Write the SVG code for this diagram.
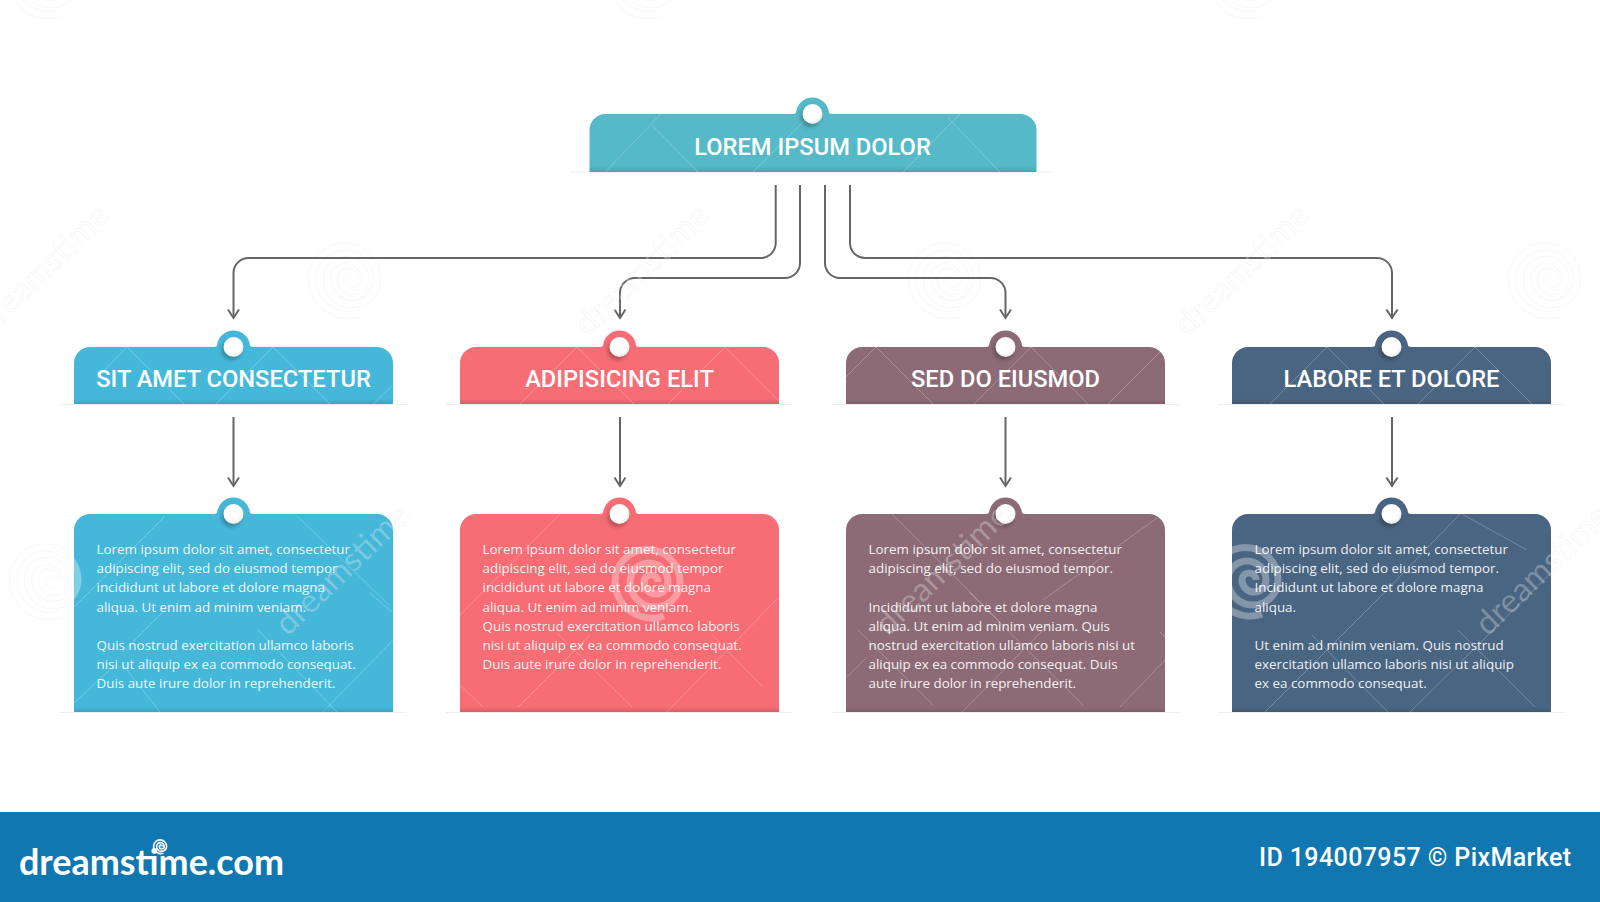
<svg xmlns="http://www.w3.org/2000/svg" width="1600" height="902" viewBox="0 0 1600 902">
<style>
.title{font-family:Roboto,"Liberation Sans",sans-serif;font-weight:500;font-size:23.700px;fill:#fff;text-anchor:middle}
.body{font-family:"Open Sans","Noto Sans",sans-serif;font-size:13.400px;fill:#fff;fill-opacity:.93}
.conn{fill:none;stroke:#666;stroke-width:2}
.base{stroke:#eeeeee;stroke-width:1}
.wl{stroke:#fff;stroke-opacity:.24;stroke-width:1;fill:none}
.wt{font-family:Lato,"Noto Sans",sans-serif;font-size:33px;fill:#fff;fill-opacity:.3;stroke:#000;stroke-opacity:.05;stroke-width:1}
.sp1{fill:none;stroke:#000;stroke-opacity:.05;stroke-width:8}
.sp2{fill:none;stroke:#fff;stroke-width:7}
.sp3{fill:none;stroke:#fff;stroke-width:7;stroke-opacity:.32}
.id{font-family:Roboto,"Liberation Sans",sans-serif;font-weight:500;font-size:25px;fill:#fff}
.logo{font-family:Lato,"Noto Sans",sans-serif;font-weight:700;font-size:36px;fill:#fff}
</style>
<defs>
<path id="head" d="M-5.500 -8.500L0 0L5.500 -8.500" fill="none" stroke="#666" stroke-width="2"/>
<linearGradient id="edge" x1="0" y1="0" x2="0" y2="1"><stop offset="0" stop-color="#000" stop-opacity="0"/><stop offset="1" stop-color="#000" stop-opacity=".12"/></linearGradient>
<radialGradient id="knob" cx=".45" cy=".4" r=".7"><stop offset=".6" stop-color="#fff"/><stop offset="1" stop-color="#dcdcdc"/></radialGradient>
<filter id="soft" x="-50%" y="-50%" width="200%" height="200%"><feGaussianBlur stdDeviation="2"/></filter>
<g id="pin">
<path d="M-20 0Q-16.400 0 -16.300 -2.500A16.500 16.500 0 0 1 16.300 -2.500Q16.400 0 20 0L20 4L-20 4Z"/>
<circle cx="-2" cy="3" r="10" fill="#000" fill-opacity=".28" filter="url(#soft)"/>
<circle r="10" fill="url(#knob)"/>
</g>
<path id="spiral" d="M6 2A7 7 0 0 0 -8 2A12 12 0 0 0 16 2A19 19 0 0 0 -22 2A25 25 0 0 0 28 2A32.500 32.500 0 0 0 -37 2A37 37 0 0 0 12 36"/>
</defs>

<g id="wm-under">
<use href="#spiral" class="sp1" x="349" y="277"/><use href="#spiral" class="sp2" x="349" y="277"/>
<use href="#spiral" class="sp1" x="949" y="277"/><use href="#spiral" class="sp2" x="949" y="277"/>
<use href="#spiral" class="sp1" x="1549" y="277"/><use href="#spiral" class="sp2" x="1549" y="277"/>
<use href="#spiral" class="sp1" x="50" y="578"/><use href="#spiral" class="sp2" x="50" y="578"/>
<use href="#spiral" class="sp1" x="48" y="-23"/><use href="#spiral" class="sp2" x="48" y="-23"/>
<use href="#spiral" class="sp1" x="648" y="-23"/><use href="#spiral" class="sp2" x="648" y="-23"/>
<use href="#spiral" class="sp1" x="1248" y="-23"/><use href="#spiral" class="sp2" x="1248" y="-23"/>
</g>

<g id="connectors">
<path class="conn" d="M775.700 185V243A15 15 0 0 1 760.700 258H248.500A15 15 0 0 0 233.500 273V317"/>
<path class="conn" d="M800 185V263A15 15 0 0 1 785 278H635A15 15 0 0 0 620 293V317"/>
<path class="conn" d="M825 185V263A15 15 0 0 0 840 278H990.500A15 15 0 0 1 1005.500 293V317"/>
<path class="conn" d="M850 185V243A15 15 0 0 0 865 258H1377A15 15 0 0 1 1392 273V317"/>
<path class="conn" d="M233.500 417V485"/>
<path class="conn" d="M620 417V485"/>
<path class="conn" d="M1005.500 417V485"/>
<path class="conn" d="M1392 417V485"/>
<use href="#head" x="233.500" y="318"/><use href="#head" x="620" y="318"/><use href="#head" x="1005.500" y="318"/><use href="#head" x="1392" y="318"/>
<use href="#head" x="233.500" y="486"/><use href="#head" x="620" y="486"/><use href="#head" x="1005.500" y="486"/><use href="#head" x="1392" y="486"/>
</g>

<g id="root-node">
<line class="base" x1="570" y1="172" x2="1055" y2="172"/>
<path fill="#56b9c8" d="M589.500 172V130A16 16 0 0 1 605.500 114H1020.500A16 16 0 0 1 1036.500 130V172Z"/>
<rect x="589.500" y="166" width="447" height="6" fill="url(#edge)"/>
<use href="#pin" x="812.500" y="114" fill="#56b9c8"/>
<text class="title" x="812.500" y="155">LOREM IPSUM DOLOR</text>
</g>

<g id="head-1">
<line class="base" x1="60" y1="404.500" x2="407" y2="404.500"/>
<path fill="#45b8da" d="M74 404V363A16 16 0 0 1 90 347H377A16 16 0 0 1 393 363V404Z"/>
<rect x="74" y="399" width="319" height="5" fill="url(#edge)"/>
<use href="#pin" x="233.500" y="347" fill="#45b8da"/>
<text class="title" x="233.500" y="387">SIT AMET CONSECTETUR</text>
</g>
<g id="head-2">
<line class="base" x1="446" y1="404.500" x2="793" y2="404.500"/>
<path fill="#f66d75" d="M460 404V363A16 16 0 0 1 476 347H763A16 16 0 0 1 779 363V404Z"/>
<rect x="460" y="399" width="319" height="5" fill="url(#edge)"/>
<use href="#pin" x="619.500" y="347" fill="#f66d75"/>
<text class="title" x="619.500" y="387">ADIPISICING ELIT</text>
</g>
<g id="head-3">
<line class="base" x1="832" y1="404.500" x2="1179" y2="404.500"/>
<path fill="#8c6b77" d="M846 404V363A16 16 0 0 1 862 347H1149A16 16 0 0 1 1165 363V404Z"/>
<rect x="846" y="399" width="319" height="5" fill="url(#edge)"/>
<use href="#pin" x="1005.500" y="347" fill="#8c6b77"/>
<text class="title" x="1005.500" y="387">SED DO EIUSMOD</text>
</g>
<g id="head-4">
<line class="base" x1="1218" y1="404.500" x2="1565" y2="404.500"/>
<path fill="#4a6582" d="M1232 404V363A16 16 0 0 1 1248 347H1535A16 16 0 0 1 1551 363V404Z"/>
<rect x="1232" y="399" width="319" height="5" fill="url(#edge)"/>
<use href="#pin" x="1391.500" y="347" fill="#4a6582"/>
<text class="title" x="1391.500" y="387">LABORE ET DOLORE</text>
</g>

<g id="card-1">
<line class="base" x1="60" y1="712.500" x2="407" y2="712.500"/>
<path fill="#45b8da" d="M74 712V530A16 16 0 0 1 90 514H377A16 16 0 0 1 393 530V712Z"/>
<rect x="74" y="707" width="319" height="5" fill="url(#edge)"/>
<use href="#pin" x="233.500" y="514" fill="#45b8da"/>
<text class="body" x="96.500" y="554">Lorem ipsum dolor sit amet, consectetur</text>
<text class="body" x="96.500" y="573.200">adipiscing elit, sed do eiusmod tempor</text>
<text class="body" x="96.500" y="592.400">incididunt ut labore et dolore magna</text>
<text class="body" x="96.500" y="611.600">aliqua. Ut enim ad minim veniam.</text>
<text class="body" x="96.500" y="650">Quis nostrud exercitation ullamco laboris</text>
<text class="body" x="96.500" y="669.200">nisi ut aliquip ex ea commodo consequat.</text>
<text class="body" x="96.500" y="688.400">Duis aute irure dolor in reprehenderit.</text>
</g>
<g id="card-2">
<line class="base" x1="446" y1="712.500" x2="793" y2="712.500"/>
<path fill="#f66d75" d="M460 712V530A16 16 0 0 1 476 514H763A16 16 0 0 1 779 530V712Z"/>
<rect x="460" y="707" width="319" height="5" fill="url(#edge)"/>
<use href="#pin" x="619.500" y="514" fill="#f66d75"/>
<text class="body" x="482.500" y="554">Lorem ipsum dolor sit amet, consectetur</text>
<text class="body" x="482.500" y="573.200">adipiscing elit, sed do eiusmod tempor</text>
<text class="body" x="482.500" y="592.400">incididunt ut labore et dolore magna</text>
<text class="body" x="482.500" y="611.600">aliqua. Ut enim ad minim veniam.</text>
<text class="body" x="482.500" y="630.800">Quis nostrud exercitation ullamco laboris</text>
<text class="body" x="482.500" y="650">nisi ut aliquip ex ea commodo consequat.</text>
<text class="body" x="482.500" y="669.200">Duis aute irure dolor in reprehenderit.</text>
</g>
<g id="card-3">
<line class="base" x1="832" y1="712.500" x2="1179" y2="712.500"/>
<path fill="#8c6b77" d="M846 712V530A16 16 0 0 1 862 514H1149A16 16 0 0 1 1165 530V712Z"/>
<rect x="846" y="707" width="319" height="5" fill="url(#edge)"/>
<use href="#pin" x="1005.500" y="514" fill="#8c6b77"/>
<text class="body" x="868.500" y="554">Lorem ipsum dolor sit amet, consectetur</text>
<text class="body" x="868.500" y="573.200">adipiscing elit, sed do eiusmod tempor.</text>
<text class="body" x="868.500" y="611.600">Incididunt ut labore et dolore magna</text>
<text class="body" x="868.500" y="630.800">aliqua. Ut enim ad minim veniam. Quis</text>
<text class="body" x="868.500" y="650">nostrud exercitation ullamco laboris nisi ut</text>
<text class="body" x="868.500" y="669.200">aliquip ex ea commodo consequat. Duis</text>
<text class="body" x="868.500" y="688.400">aute irure dolor in reprehenderit.</text>
</g>
<g id="card-4">
<line class="base" x1="1218" y1="712.500" x2="1565" y2="712.500"/>
<path fill="#4a6582" d="M1232 712V530A16 16 0 0 1 1248 514H1535A16 16 0 0 1 1551 530V712Z"/>
<rect x="1232" y="707" width="319" height="5" fill="url(#edge)"/>
<use href="#pin" x="1391.500" y="514" fill="#4a6582"/>
<text class="body" x="1254.500" y="554">Lorem ipsum dolor sit amet, consectetur</text>
<text class="body" x="1254.500" y="573.200">adipiscing elit, sed do eiusmod tempor.</text>
<text class="body" x="1254.500" y="592.400">Incididunt ut labore et dolore magna</text>
<text class="body" x="1254.500" y="611.600">aliqua.</text>
<text class="body" x="1254.500" y="650">Ut enim ad minim veniam. Quis nostrud</text>
<text class="body" x="1254.500" y="669.200">exercitation ullamco laboris nisi ut aliquip</text>
<text class="body" x="1254.500" y="688.400">ex ea commodo consequat.</text>
</g>

<g id="watermark">
<path class="wl" d="M661 114L605 172M652 125L698 172M805 120L753 172M960 114L903 172M948 118L1000 172"/>
<path class="wl" d="M127 347L97 378M127 347L184 404M273 347L216 404M273 347L330 404M393 385L373 404"/>
<path class="wl" d="M577 347L520 404M577 347L634 404M725 347L668 404M725 347L779 401"/>
<path class="wl" d="M876 347L846 377M876 347L933 404M1031 347L974 404M1031 347L1088 404M1165 347L1108 404"/>
<path class="wl" d="M1327 347L1270 404M1327 347L1384 404M1475 347L1418 404M1475 347L1532 404"/>
<path class="wl" d="M165 516L74 607M165 610L123 652M74 703L115 665M297 516L390 606M370 593L393 613M258 630L337 712M123 665L160 712M323 712L393 640"/>
<path class="wl" d="M460 615L560 514M518 707L590 635M667 712L778 598M557 633L632 707M712 635L763 687M460 685L483 707"/>
<path class="wl" d="M892 514L1000 622M847 677L867 657M962 712L1050 623M1120 707L1165 660M1043 600L1157 518M858 630L933 705M970 593L1083 705M1160 632L1165 637"/>
<path class="wl" d="M1462 514L1527 550M1380 597L1265 712M1551 573L1410 712M1458 630L1535 707M1312 635L1388 712M1460 514L1380 597"/>
<use href="#spiral" class="sp3" x="50" y="578"/>
<use href="#spiral" class="sp3" x="652" y="580"/>
<use href="#spiral" class="sp3" x="1250" y="578"/>
<text class="wt" transform="translate(-12 337) rotate(-44)" textLength="172" lengthAdjust="spacingAndGlyphs">dreamstime</text>
<text class="wt" transform="translate(588 337) rotate(-44)" textLength="172" lengthAdjust="spacingAndGlyphs">dreamstime</text>
<text class="wt" transform="translate(1188 337) rotate(-44)" textLength="172" lengthAdjust="spacingAndGlyphs">dreamstime</text>
<text class="wt" transform="translate(288 637) rotate(-44)" textLength="172" lengthAdjust="spacingAndGlyphs">dreamstime</text>
<text class="wt" transform="translate(888 637) rotate(-44)" textLength="172" lengthAdjust="spacingAndGlyphs">dreamstime</text>
<text class="wt" transform="translate(1488 637) rotate(-44)" textLength="172" lengthAdjust="spacingAndGlyphs">dreamstime</text>
</g>

<g id="footer">
<rect x="0" y="812" width="1600" height="90" fill="#1077b0"/>
<text class="logo" x="19" y="875" textLength="265" lengthAdjust="spacingAndGlyphs">dreamstime.com</text>
<use href="#spiral" transform="translate(161 846) scale(.2)" fill="none" stroke="#fff" stroke-width="8"/>
<text class="id" x="1259" y="866" textLength="312">ID 194007957 © PixMarket</text>
</g>
</svg>
